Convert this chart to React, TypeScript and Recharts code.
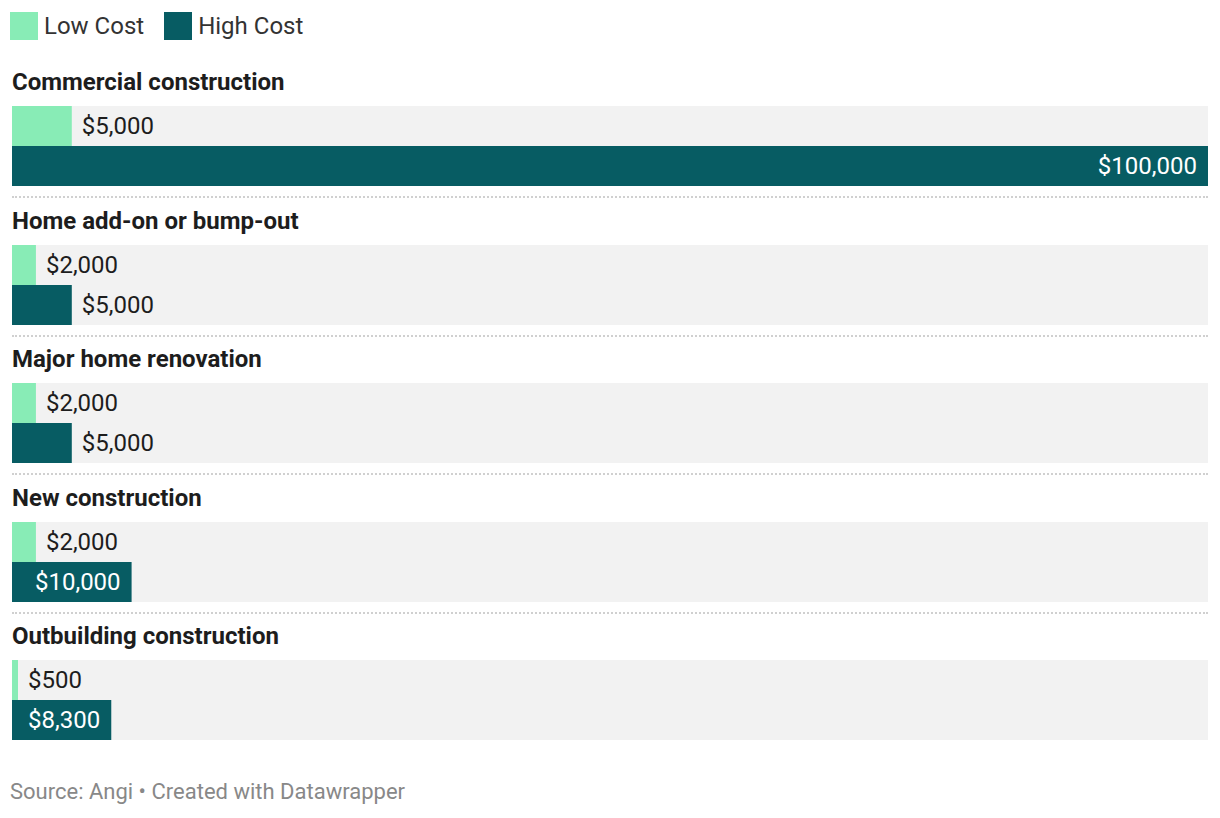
import { Bar, BarChart, LabelList, XAxis, YAxis } from "recharts"

const categories = [
  "Commercial construction",
  "Home add-on or bump-out",
  "Major home renovation",
  "New construction",
  "Outbuilding construction",
]
const lowCost = [5000, 2000, 2000, 2000, 500]
const highCost = [100000, 5000, 5000, 10000, 8300]

const LOW = "#88ecb6"
const HIGH = "#075c63"
const FONT = "Roboto, 'Noto Sans', sans-serif"

const fmt = (v: number) => "$" + v.toLocaleString("en-US")

// rough Roboto 24px width
const textWidth = (s: string) => {
  let w = 0
  for (const ch of s) w += ch === "," ? 5.7 : 13.5
  return w
}

function ValueLabel(props: any) {
  const { x, y, width, height, value } = props
  const label = fmt(value)
  const tw = textWidth(label)
  const inside = width >= tw + 22
  const cy = y + height / 2
  if (inside) {
    return (
      <text x={x + width - 11} y={cy} textAnchor="end" dominantBaseline="central" fill="#fff" fontSize={24} fontFamily={FONT}>
        {label}
      </text>
    )
  }
  return (
    <text x={x + width + 10} y={cy} textAnchor="start" dominantBaseline="central" fill="#1d1d1d" fontSize={24} fontFamily={FONT}>
      {label}
    </text>
  )
}

function Group({ index }: { index: number }) {
  const data = [{ name: categories[index], low: lowCost[index], high: highCost[index] }]
  return (
    <div>
      <div style={{ height: 24, lineHeight: "24px", fontSize: 24, fontWeight: 700, color: "#1d1d1d", marginTop: index === 0 ? 0 : 10.5 }}>
        {categories[index]}
      </div>
      <div style={{ height: 12 }} />
      <BarChart
        width={1196}
        height={80}
        data={data}
        layout="vertical"
        margin={{ top: 0, right: 0, bottom: 0, left: 0 }}
        barCategoryGap={0}
        barGap={0}
      >
        <XAxis type="number" domain={[0, 100000]} hide />
        <YAxis type="category" dataKey="name" hide />
        <Bar dataKey="low" fill={LOW} background={{ fill: "#f2f2f2" }} isAnimationActive={false}>
          <LabelList dataKey="low" content={ValueLabel} />
        </Bar>
        <Bar dataKey="high" fill={HIGH} background={{ fill: "#f2f2f2" }} isAnimationActive={false}>
          <LabelList dataKey="high" content={ValueLabel} />
        </Bar>
      </BarChart>
      {index < categories.length - 1 && (
        <div style={{ height: 10, borderBottom: "2px dotted #d0d0d0" }} />
      )}
    </div>
  )
}

export default function App() {
  return (
    <div style={{ width: 1196, marginLeft: 4, marginTop: 4, fontFamily: FONT, background: "#fff" }}>
      <div style={{ display: "flex", alignItems: "center", marginLeft: -2, height: 28, fontSize: 24, color: "#333" }}>
        <span style={{ width: 28, height: 28, background: LOW, display: "inline-block" }} />
        <span style={{ marginLeft: 6 }}>Low Cost</span>
        <span style={{ width: 28, height: 28, background: HIGH, display: "inline-block", marginLeft: 20 }} />
        <span style={{ marginLeft: 6 }}>High Cost</span>
      </div>
      <div style={{ height: 30 }} />
      {categories.map((_, i) => (
        <Group key={i} index={i} />
      ))}
      <div style={{ marginTop: 40, marginLeft: -2, fontSize: 22, lineHeight: "24px", color: "#888" }}>
        Source: Angi • Created with Datawrapper
      </div>
    </div>
  )
}
